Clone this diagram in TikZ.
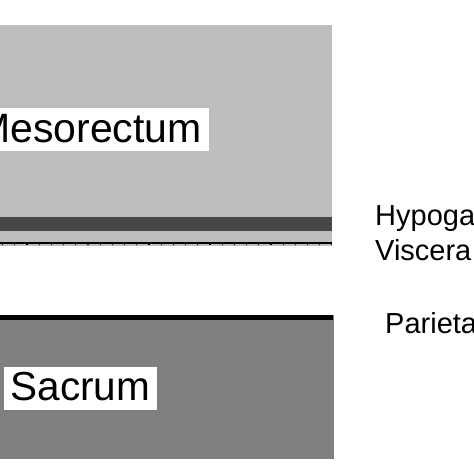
\documentclass[tikz,border=0pt]{standalone}
\usepackage{fontspec}
\setmainfont{Liberation Sans}
\definecolor{mesogray}{HTML}{BEBEBE}
\definecolor{bandgray}{HTML}{474747}
\definecolor{sacgray}{HTML}{808080}
\tikzset{
  lbl/.style={inner sep=0pt, anchor=base west, text=black},
  biglbl/.style={lbl, font=\fontsize{41}{41}\selectfont},
  sidelbl/.style={lbl, font=\fontsize{29}{29}\selectfont},
}
\begin{document}
\begin{tikzpicture}[x=1pt,y=-1pt]
\clip (0,0) rectangle (474,474);
\fill[white] (0,0) rectangle (474,474);
% mesorectum
\fill[mesogray] (0,25) rectangle (332,246);
\fill[bandgray] (0,217) rectangle (332,231);
\draw[black, line width=1.6pt] (0,243) -- (332,243);
\draw[black, line width=3.5pt, dash pattern=on 1.2pt off 11pt] (2,243.5) -- (332,243.5);
\fill[white] (-30,108) rectangle (209,151);
\node[biglbl] (meso) at (-24,142) {Mesorectum};
% sacrum
\fill[sacgray] (0,315) rectangle (334,459);
\fill[black] (0,315) rectangle (333,320);
\fill[white] (4,367) rectangle (157,410);
\node[biglbl, font=\fontsize{40.5}{40.5}\selectfont] (sac) at (10.5,400) {Sacrum};
% side labels
\node[sidelbl] (hyp) at (375,225) {Hypoga};
\node[sidelbl] (visc) at (375,260) {Viscera};
\node[sidelbl] (par) at (385,333) {Parieta};
\end{tikzpicture}
\end{document}
